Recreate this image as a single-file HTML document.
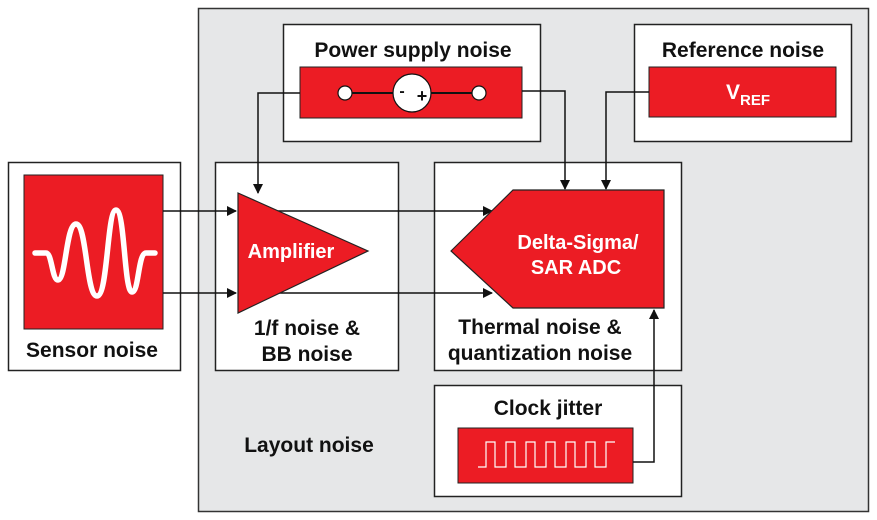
<!DOCTYPE html>
<html><head><meta charset="utf-8"><style>html,body{margin:0;padding:0;background:#fff}svg{display:block}</style></head>
<body>
<svg width="877" height="520" viewBox="0 0 877 520" xmlns="http://www.w3.org/2000/svg" font-family="Liberation Sans, Arial, sans-serif" font-weight="bold">
<defs>
<marker id="ar" markerWidth="10" markerHeight="10" refX="9" refY="5" orient="auto" markerUnits="userSpaceOnUse"><path d="M0,0 L10,5 L0,10 z" fill="#111"/></marker>
</defs>
<rect x="198.5" y="8.5" width="670" height="503" fill="#e6e7e8" stroke="#333" stroke-width="1.5"/>
<rect x="8.5" y="162.5" width="172" height="208" fill="#fff" stroke="#222" stroke-width="1.5"/>
<rect x="215.5" y="162.5" width="183" height="208" fill="#fff" stroke="#222" stroke-width="1.5"/>
<rect x="434.5" y="162.5" width="247" height="208" fill="#fff" stroke="#222" stroke-width="1.5"/>
<rect x="434.5" y="385.5" width="247" height="111" fill="#fff" stroke="#222" stroke-width="1.5"/>
<rect x="283.5" y="24.5" width="257" height="117" fill="#fff" stroke="#222" stroke-width="1.5"/>
<rect x="634.5" y="24.5" width="217" height="117" fill="#fff" stroke="#222" stroke-width="1.5"/>
<rect x="24" y="175" width="139" height="154" fill="#ec1c24" stroke="#222" stroke-width="1"/>
<rect x="300" y="67" width="222" height="51" fill="#ec1c24" stroke="#222" stroke-width="1"/>
<rect x="649" y="67" width="187" height="50" fill="#ec1c24" stroke="#222" stroke-width="1"/>
<rect x="458" y="428" width="175" height="55" fill="#ec1c24" stroke="#222" stroke-width="1"/>
<g stroke="#111" stroke-width="1.5" fill="none">
<path d="M163,211 H236" marker-end="url(#ar)"/>
<path d="M163,293 H236" marker-end="url(#ar)"/>
<path d="M300,93 H258 V193" marker-end="url(#ar)"/>
<path d="M522,91 H565 V189" marker-end="url(#ar)"/>
<path d="M649,92 H606 V189" marker-end="url(#ar)"/>
<path d="M238,211 H492" marker-end="url(#ar)"/>
<path d="M238,293 H492" marker-end="url(#ar)"/>
<path d="M633,462 H654 V310" marker-end="url(#ar)"/>
</g>
<polygon points="238,193 368,251 238,313" fill="#ec1c24" stroke="#222" stroke-width="1.2"/>
<text x="291" y="258" fill="#fff" font-size="20" text-anchor="middle">Amplifier</text>
<polygon points="451,251 513,190 664,190 664,308 513,308" fill="#ec1c24" stroke="#222" stroke-width="1.2"/>
<text x="578" y="249" fill="#fff" font-size="20" text-anchor="middle">Delta-Sigma/</text>
<text x="576" y="274" fill="#fff" font-size="20" text-anchor="middle">SAR ADC</text>
<line x1="345" y1="93" x2="479" y2="93" stroke="#111" stroke-width="2"/>
<circle cx="345" cy="93" r="7" fill="#fff" stroke="#111" stroke-width="1.2"/>
<circle cx="479" cy="93" r="7" fill="#fff" stroke="#111" stroke-width="1.2"/>
<circle cx="412" cy="93" r="19" fill="#fff" stroke="#111" stroke-width="1.2"/>
<text x="402" y="96" font-size="16" text-anchor="middle" fill="#111">-</text>
<text x="422" y="102" font-size="18" text-anchor="middle" fill="#111">+</text>
<text x="726" y="99" fill="#fff" font-size="21">V<tspan font-size="15" dy="6">REF</tspan></text>
<path d="M35,253 H46 C52,253 52,280 58,280 C66,280 66,224 76,224 C87,224 86,296 97,296 C108,296 107,210 116,210 C125,210 124,292 132,292 C139,292 138,253 146,253 H155" fill="none" stroke="#fff" stroke-width="5.5" stroke-linecap="round" stroke-linejoin="round"/>
<path d="M478,467 H486 V442 H495 V467 H506 V442 H515 V467 H526 V442 H535 V467 H546 V442 H555 V467 H566 V442 H575 V467 H586 V442 H595 V467 H606 V442 H615" fill="none" stroke="#fff" stroke-width="1.2"/>
<g fill="#111" font-size="21" text-anchor="middle">
<text x="413" y="57">Power supply noise</text>
<text x="743" y="57">Reference noise</text>
<text x="92" y="357">Sensor noise</text>
<text x="307" y="335">1/f noise &amp;</text>
<text x="307" y="361">BB noise</text>
<text x="540" y="334">Thermal noise &amp;</text>
<text x="540" y="360">quantization noise</text>
<text x="548" y="415">Clock jitter</text>
<text x="309" y="452">Layout noise</text>
</g>
</svg>
</body></html>
